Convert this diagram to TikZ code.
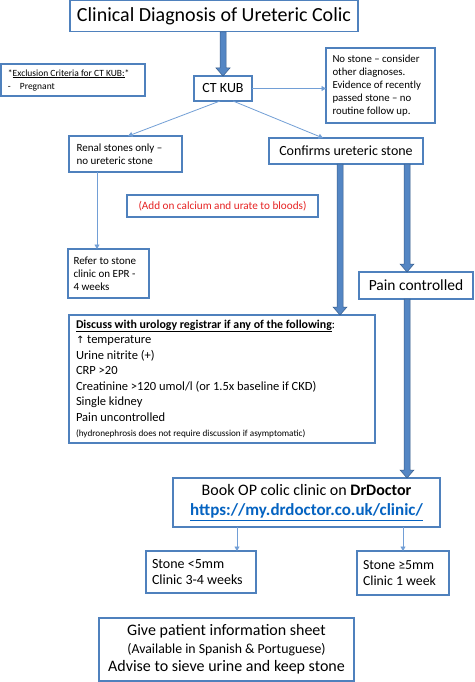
\documentclass[tikz,border=0pt]{standalone}
\usepackage{fontspec}
\setmainfont{Carlito}
\newfontfamily\djv{DejaVu Sans}
\usetikzlibrary{arrows.meta,calc}
\definecolor{boxblue}{RGB}{79,129,189}
\definecolor{thinblue}{RGB}{114,159,214}
\definecolor{fatfill}{RGB}{84,134,196}
\definecolor{fatline}{RGB}{56,93,138}
\definecolor{redtext}{RGB}{230,35,35}
\definecolor{linkblue}{RGB}{5,99,193}
\newcommand\fs[2]{\fontsize{#1}{#2}\selectfont}
\newcommand\fatarrow[2]{\filldraw[fat] let \p1=(#1), \p2=(#2) in
  (\x1-3pt,\y1) -- (\x1-3pt,\y2+8pt) -- (\x1-7pt,\y2+8pt) -- (\x1,\y2) --
  (\x1+7pt,\y2+8pt) -- (\x1+3pt,\y2+8pt) -- (\x1+3pt,\y1) -- cycle;}
\begin{document}
\begin{tikzpicture}[x=1pt,y=-1pt,
  box/.style={draw=boxblue,line width=1.3pt,fill=white,inner sep=0pt,outer sep=0pt},
  lbox/.style={box,align=flush left},
  thinarrow/.style={draw=thinblue,line width=0.8pt,-{Triangle[width=5pt,length=4.5pt]}},
  fat/.style={fill=fatfill,draw=fatline,line width=0.5pt}]
\useasboundingbox (0,0) rectangle (474,682);
\fill[white] (0,0) rectangle (474,682);

\node[box,minimum width=288pt,minimum height=31pt,font=\fs{20}{24}] (title) at (214,16.3) {Clinical Diagnosis of Ureteric Colic};

\node[lbox,minimum width=144pt,minimum height=32pt,text width=130pt,font=\fs{9.5}{13}] (excl) at (73,80) {*\underline{Exclusion Criteria for CT KUB:}*\\-\hspace{9pt}Pregnant};

\node[box,minimum width=58pt,minimum height=25pt,font=\fs{14}{17}] (ctkub) at (223,88.5) {CT KUB};

\node[lbox,minimum width=109pt,minimum height=75pt,text width=96pt,font=\fs{10.8}{13}] (nostone) at (380.5,85.5) {No stone – consider\\other diagnoses.\\Evidence of recently\\passed stone – no\\routine follow up.};

\node[lbox,minimum width=113pt,minimum height=36pt,text width=98pt,font=\fs{11}{12.7}] (renal) at (125.5,154) {Renal stones only –\\no ureteric stone};

\node[box,minimum width=154pt,minimum height=26pt,font=\fs{14}{17}] (confirms) at (346,151) {Confirms ureteric stone};

\node[box,minimum width=191pt,minimum height=22pt,font=\fs{11.2}{13},text=redtext] (red) at (222.5,206) {(Add on calcium and urate to bloods)};

\node[lbox,minimum width=81pt,minimum height=49pt,text width=70pt,font=\fs{11}{13}] (refer) at (108.5,273.5) {Refer to stone\\clinic on EPR -\\4 weeks};

\node[box,minimum width=114pt,minimum height=27pt,font=\fs{15.5}{18}] (pain) at (416,285.5) {Pain controlled};

\node[lbox,minimum width=306pt,minimum height=128pt,text width=292pt,font=\fs{12.5}{15.5}] (discuss) at (222,379) {{\fs{11.9}{15.5}\textbf{\underline{Discuss with urology registrar if any of the following}}:}\\
{\djv\fs{10}{15.5}↑} temperature\\
Urine nitrite (+)\\
CRP >20\\
Creatinine >120 umol/l (or 1.5x baseline if CKD)\\
Single kidney\\
Pain uncontrolled\\
{\fs{9.2}{13}(hydronephrosis does not require discussion if asymptomatic)}};

\node[box,minimum width=267pt,minimum height=49pt,align=center,font=\fs{16}{20.5}] (book) at (306.5,502.5) {Book OP colic clinic on \textbf{DrDoctor}\\{\fs{17}{20.5}\textcolor{linkblue}{\textbf{\underline{https://my.drdoctor.co.uk/clinic/}}}}};

\node[lbox,minimum width=110pt,minimum height=42pt,text width=98pt,font=\fs{14}{16.7}] (small) at (201,572) {Stone <5mm\\Clinic 3-4 weeks};

\node[lbox,minimum width=92pt,minimum height=44pt,text width=80pt,font=\fs{13.8}{16.7}] (large) at (403,573) {Stone ≥5mm\\Clinic 1 week};

\node[box,minimum width=255pt,minimum height=63pt,align=center,font=\fs{16}{18}] (give) at (226.5,649.5) {Give patient information sheet\\{\fs{13.8}{18}(Available in Spanish \& Portuguese)}\\Advise to sieve urine and keep stone};

\coordinate (xA) at (340,0);
\coordinate (xB) at (407,0);
\coordinate (rx) at (97,0);
\coordinate (sx) at (237,0);

\fatarrow{ctkub.north |- title.south}{ctkub.north}
\fatarrow{confirms.south -| xA}{discuss.north -| xA}
\fatarrow{confirms.south -| xB}{pain.north -| xB}
\fatarrow{pain.south -| xB}{book.north -| xB}

\draw[thinarrow] (ctkub.east) -- (nostone.west |- ctkub.east);
\draw[thinarrow] ([xshift=-3pt]ctkub.south) -- ([xshift=2.5pt]renal.north);
\draw[thinarrow] ([xshift=10pt]ctkub.south) -- ([xshift=-23pt]confirms.north);
\draw[thinarrow] (renal.south -| rx) -- (refer.north -| rx);
\draw[thinarrow] (book.south -| sx) -- (small.north -| sx);
\draw[thinarrow] (book.south -| large.north) -- (large.north);
\end{tikzpicture}
\end{document}
